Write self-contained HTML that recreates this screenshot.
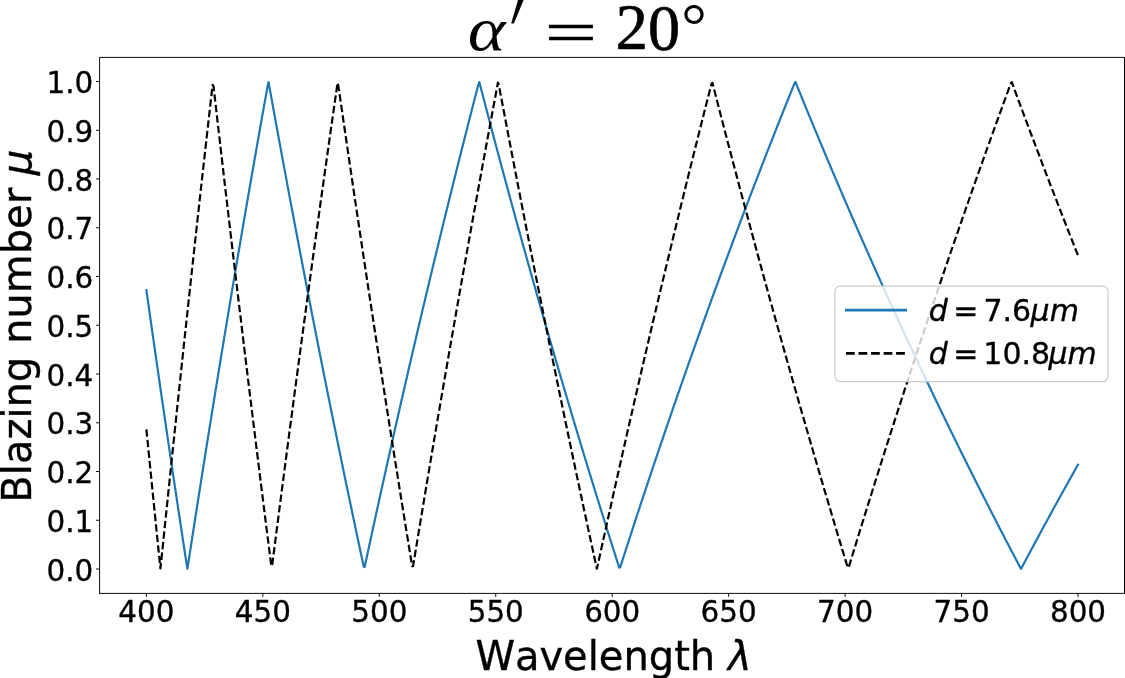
<!DOCTYPE html>
<html lang="en"><head><meta charset="utf-8"><title>Blazing number</title>
<style>html,body{margin:0;padding:0;background:#fff;}svg{display:block;}text{font-family:"DejaVu Sans","Liberation Sans",sans-serif;fill:#000;font-kerning:none;}.sb text,.sb{stroke:#000;stroke-width:0.35px;}.it{font-style:italic;}.ser{font-family:"Liberation Serif","DejaVu Serif",serif;}.dser{font-family:"DejaVu Serif","Liberation Serif",serif;}</style></head><body>
<svg width="1125" height="678" viewBox="0 0 1125 678">
<rect x="0" y="0" width="1125" height="678" fill="#fff"/>
<defs><clipPath id="ax"><rect x="99.6" y="57.4" width="1024.9" height="536.0"/></clipPath></defs>
<g clip-path="url(#ax)" fill="none" stroke-linejoin="round">
<path d="M146.40,290.15 L147.33,296.77 L148.27,303.37 L149.20,309.96 L150.13,316.54 L151.06,323.10 L152.00,329.65 L152.93,336.19 L153.86,342.71 L154.79,349.22 L155.73,355.72 L156.66,362.21 L157.59,368.68 L158.52,375.14 L159.46,381.59 L160.39,388.03 L161.32,394.45 L162.25,400.86 L163.19,407.25 L164.12,413.64 L165.05,420.01 L165.98,426.37 L166.92,432.72 L167.85,439.05 L168.78,445.37 L169.71,451.68 L170.65,457.98 L171.58,464.26 L172.51,470.54 L173.44,476.80 L174.38,483.05 L175.31,489.28 L176.24,495.51 L177.17,501.72 L178.11,507.92 L179.04,514.11 L179.97,520.28 L180.90,526.45 L181.84,532.60 L182.77,538.74 L183.70,544.87 L184.63,550.99 L185.57,557.09 L186.50,563.19 L187.43,568.73 L188.36,562.66 L189.30,556.60 L190.23,550.56 L191.16,544.52 L192.09,538.50 L193.03,532.49 L193.96,526.48 L194.89,520.49 L195.82,514.52 L196.76,508.55 L197.69,502.59 L198.62,496.65 L199.55,490.72 L200.49,484.80 L201.42,478.89 L202.35,472.99 L203.28,467.10 L204.22,461.22 L205.15,455.35 L206.08,449.50 L207.01,443.66 L207.95,437.82 L208.88,432.00 L209.81,426.19 L210.74,420.39 L211.68,414.60 L212.61,408.82 L213.54,403.05 L214.47,397.30 L215.41,391.55 L216.34,385.81 L217.27,380.09 L218.21,374.38 L219.14,368.67 L220.07,362.98 L221.00,357.30 L221.94,351.62 L222.87,345.96 L223.80,340.31 L224.73,334.67 L225.67,329.04 L226.60,323.42 L227.53,317.81 L228.46,312.21 L229.40,306.62 L230.33,301.04 L231.26,295.48 L232.19,289.92 L233.13,284.37 L234.06,278.83 L234.99,273.30 L235.92,267.79 L236.86,262.28 L237.79,256.78 L238.72,251.29 L239.65,245.82 L240.59,240.35 L241.52,234.89 L242.45,229.44 L243.38,224.01 L244.32,218.58 L245.25,213.16 L246.18,207.75 L247.11,202.35 L248.05,196.96 L248.98,191.58 L249.91,186.22 L250.84,180.86 L251.78,175.51 L252.71,170.16 L253.64,164.83 L254.57,159.51 L255.51,154.20 L256.44,148.90 L257.37,143.61 L258.30,138.32 L259.24,133.05 L260.17,127.78 L261.10,122.53 L262.03,117.28 L262.97,112.05 L263.90,106.82 L264.83,101.60 L265.76,96.39 L266.70,91.19 L267.63,86.00 L268.56,82.18 L269.49,87.35 L270.43,92.51 L271.36,97.67 L272.29,102.81 L273.22,107.95 L274.16,113.07 L275.09,118.19 L276.02,123.30 L276.95,128.40 L277.89,133.49 L278.82,138.57 L279.75,143.64 L280.68,148.71 L281.62,153.76 L282.55,158.81 L283.48,163.84 L284.41,168.87 L285.35,173.89 L286.28,178.90 L287.21,183.91 L288.14,188.90 L289.08,193.88 L290.01,198.86 L290.94,203.83 L291.88,208.79 L292.81,213.74 L293.74,218.68 L294.67,223.61 L295.61,228.54 L296.54,233.45 L297.47,238.36 L298.40,243.26 L299.34,248.15 L300.27,253.03 L301.20,257.91 L302.13,262.77 L303.07,267.63 L304.00,272.48 L304.93,277.32 L305.86,282.15 L306.80,286.98 L307.73,291.80 L308.66,296.60 L309.59,301.40 L310.53,306.19 L311.46,310.98 L312.39,315.75 L313.32,320.52 L314.26,325.28 L315.19,330.03 L316.12,334.77 L317.05,339.51 L317.99,344.24 L318.92,348.95 L319.85,353.67 L320.78,358.37 L321.72,363.06 L322.65,367.75 L323.58,372.43 L324.51,377.10 L325.45,381.77 L326.38,386.42 L327.31,391.07 L328.24,395.71 L329.18,400.34 L330.11,404.97 L331.04,409.58 L331.97,414.19 L332.91,418.79 L333.84,423.39 L334.77,427.97 L335.70,432.55 L336.64,437.12 L337.57,441.69 L338.50,446.24 L339.43,450.79 L340.37,455.33 L341.30,459.87 L342.23,464.39 L343.16,468.91 L344.10,473.42 L345.03,477.92 L345.96,482.42 L346.89,486.91 L347.83,491.39 L348.76,495.86 L349.69,500.33 L350.62,504.79 L351.56,509.24 L352.49,513.69 L353.42,518.12 L354.35,522.55 L355.29,526.98 L356.22,531.39 L357.15,535.80 L358.08,540.20 L359.02,544.59 L359.95,548.98 L360.88,553.36 L361.82,557.73 L362.75,562.10 L363.68,566.46 L364.61,567.19 L365.55,562.85 L366.48,558.51 L367.41,554.18 L368.34,549.86 L369.28,545.54 L370.21,541.23 L371.14,536.93 L372.07,532.64 L373.01,528.35 L373.94,524.07 L374.87,519.79 L375.80,515.52 L376.74,511.26 L377.67,507.01 L378.60,502.76 L379.53,498.52 L380.47,494.29 L381.40,490.06 L382.33,485.84 L383.26,481.63 L384.20,477.42 L385.13,473.22 L386.06,469.03 L386.99,464.84 L387.93,460.66 L388.86,456.49 L389.79,452.32 L390.72,448.16 L391.66,444.01 L392.59,439.86 L393.52,435.72 L394.45,431.59 L395.39,427.46 L396.32,423.34 L397.25,419.22 L398.18,415.12 L399.12,411.01 L400.05,406.92 L400.98,402.83 L401.91,398.75 L402.85,394.67 L403.78,390.60 L404.71,386.54 L405.64,382.49 L406.58,378.44 L407.51,374.39 L408.44,370.35 L409.37,366.32 L410.31,362.30 L411.24,358.28 L412.17,354.27 L413.10,350.26 L414.04,346.26 L414.97,342.27 L415.90,338.28 L416.83,334.30 L417.77,330.32 L418.70,326.36 L419.63,322.39 L420.56,318.44 L421.50,314.49 L422.43,310.54 L423.36,306.60 L424.29,302.67 L425.23,298.74 L426.16,294.82 L427.09,290.91 L428.02,287.00 L428.96,283.10 L429.89,279.20 L430.82,275.31 L431.75,271.43 L432.69,267.55 L433.62,263.68 L434.55,259.81 L435.49,255.95 L436.42,252.10 L437.35,248.25 L438.28,244.41 L439.22,240.57 L440.15,236.74 L441.08,232.91 L442.01,229.09 L442.95,225.28 L443.88,221.47 L444.81,217.67 L445.74,213.87 L446.68,210.08 L447.61,206.30 L448.54,202.52 L449.47,198.75 L450.41,194.98 L451.34,191.22 L452.27,187.46 L453.20,183.71 L454.14,179.96 L455.07,176.22 L456.00,172.49 L456.93,168.76 L457.87,165.04 L458.80,161.32 L459.73,157.61 L460.66,153.91 L461.60,150.21 L462.53,146.51 L463.46,142.82 L464.39,139.14 L465.33,135.46 L466.26,131.79 L467.19,128.12 L468.12,124.46 L469.06,120.80 L469.99,117.15 L470.92,113.50 L471.85,109.86 L472.79,106.23 L473.72,102.60 L474.65,98.97 L475.58,95.36 L476.52,91.74 L477.45,88.13 L478.38,84.53 L479.31,82.07 L480.25,85.66 L481.18,89.24 L482.11,92.83 L483.04,96.40 L483.98,99.97 L484.91,103.54 L485.84,107.10 L486.77,110.65 L487.71,114.20 L488.64,117.75 L489.57,121.29 L490.50,124.82 L491.44,128.35 L492.37,131.88 L493.30,135.40 L494.23,138.91 L495.17,142.42 L496.10,145.92 L497.03,149.42 L497.96,152.91 L498.90,156.40 L499.83,159.89 L500.76,163.36 L501.69,166.84 L502.63,170.31 L503.56,173.77 L504.49,177.23 L505.43,180.68 L506.36,184.13 L507.29,187.57 L508.22,191.01 L509.16,194.44 L510.09,197.87 L511.02,201.30 L511.95,204.71 L512.89,208.13 L513.82,211.54 L514.75,214.94 L515.68,218.34 L516.62,221.73 L517.55,225.12 L518.48,228.51 L519.41,231.89 L520.35,235.26 L521.28,238.63 L522.21,242.00 L523.14,245.36 L524.08,248.71 L525.01,252.06 L525.94,255.41 L526.87,258.75 L527.81,262.09 L528.74,265.42 L529.67,268.75 L530.60,272.07 L531.54,275.39 L532.47,278.70 L533.40,282.01 L534.33,285.31 L535.27,288.61 L536.20,291.90 L537.13,295.19 L538.06,298.48 L539.00,301.76 L539.93,305.03 L540.86,308.30 L541.79,311.57 L542.73,314.83 L543.66,318.09 L544.59,321.34 L545.52,324.59 L546.46,327.83 L547.39,331.07 L548.32,334.31 L549.25,337.54 L550.19,340.76 L551.12,343.99 L552.05,347.20 L552.98,350.41 L553.92,353.62 L554.85,356.82 L555.78,360.02 L556.71,363.22 L557.65,366.41 L558.58,369.59 L559.51,372.77 L560.44,375.95 L561.38,379.12 L562.31,382.29 L563.24,385.45 L564.17,388.61 L565.11,391.77 L566.04,394.92 L566.97,398.06 L567.90,401.20 L568.84,404.34 L569.77,407.47 L570.70,410.60 L571.63,413.73 L572.57,416.85 L573.50,419.96 L574.43,423.07 L575.36,426.18 L576.30,429.29 L577.23,432.38 L578.16,435.48 L579.10,438.57 L580.03,441.65 L580.96,444.74 L581.89,447.81 L582.83,450.89 L583.76,453.96 L584.69,457.02 L585.62,460.08 L586.56,463.14 L587.49,466.19 L588.42,469.24 L589.35,472.28 L590.29,475.32 L591.22,478.36 L592.15,481.39 L593.08,484.42 L594.02,487.44 L594.95,490.46 L595.88,493.48 L596.81,496.49 L597.75,499.50 L598.68,502.50 L599.61,505.50 L600.54,508.50 L601.48,511.49 L602.41,514.47 L603.34,517.46 L604.27,520.44 L605.21,523.41 L606.14,526.38 L607.07,529.35 L608.00,532.31 L608.94,535.27 L609.87,538.23 L610.80,541.18 L611.73,544.13 L612.67,547.07 L613.60,550.01 L614.53,552.95 L615.46,555.88 L616.40,558.81 L617.33,561.73 L618.26,564.65 L619.19,567.57 L620.13,567.52 L621.06,564.61 L621.99,561.71 L622.92,558.81 L623.86,555.91 L624.79,553.02 L625.72,550.13 L626.65,547.24 L627.59,544.36 L628.52,541.48 L629.45,538.61 L630.38,535.74 L631.32,532.87 L632.25,530.01 L633.18,527.15 L634.11,524.29 L635.05,521.44 L635.98,518.60 L636.91,515.75 L637.84,512.91 L638.78,510.07 L639.71,507.24 L640.64,504.41 L641.57,501.59 L642.51,498.77 L643.44,495.95 L644.37,493.13 L645.30,490.32 L646.24,487.52 L647.17,484.71 L648.10,481.91 L649.04,479.12 L649.97,476.32 L650.90,473.53 L651.83,470.75 L652.77,467.97 L653.70,465.19 L654.63,462.42 L655.56,459.64 L656.50,456.88 L657.43,454.11 L658.36,451.35 L659.29,448.60 L660.23,445.84 L661.16,443.09 L662.09,440.35 L663.02,437.61 L663.96,434.87 L664.89,432.13 L665.82,429.40 L666.75,426.67 L667.69,423.95 L668.62,421.23 L669.55,418.51 L670.48,415.79 L671.42,413.08 L672.35,410.38 L673.28,407.67 L674.21,404.97 L675.15,402.27 L676.08,399.58 L677.01,396.89 L677.94,394.20 L678.88,391.52 L679.81,388.84 L680.74,386.17 L681.67,383.49 L682.61,380.82 L683.54,378.16 L684.47,375.49 L685.40,372.83 L686.34,370.18 L687.27,367.53 L688.20,364.88 L689.13,362.23 L690.07,359.59 L691.00,356.95 L691.93,354.31 L692.86,351.68 L693.80,349.05 L694.73,346.42 L695.66,343.80 L696.59,341.18 L697.53,338.57 L698.46,335.95 L699.39,333.34 L700.32,330.74 L701.26,328.13 L702.19,325.53 L703.12,322.94 L704.05,320.34 L704.99,317.75 L705.92,315.17 L706.85,312.58 L707.78,310.00 L708.72,307.43 L709.65,304.85 L710.58,302.28 L711.51,299.71 L712.45,297.15 L713.38,294.59 L714.31,292.03 L715.24,289.48 L716.18,286.92 L717.11,284.38 L718.04,281.83 L718.97,279.29 L719.91,276.75 L720.84,274.21 L721.77,271.68 L722.71,269.15 L723.64,266.63 L724.57,264.10 L725.50,261.58 L726.44,259.07 L727.37,256.55 L728.30,254.04 L729.23,251.53 L730.17,249.03 L731.10,246.53 L732.03,244.03 L732.96,241.53 L733.90,239.04 L734.83,236.55 L735.76,234.07 L736.69,231.58 L737.63,229.10 L738.56,226.62 L739.49,224.15 L740.42,221.68 L741.36,219.21 L742.29,216.75 L743.22,214.28 L744.15,211.83 L745.09,209.37 L746.02,206.92 L746.95,204.47 L747.88,202.02 L748.82,199.58 L749.75,197.13 L750.68,194.70 L751.61,192.26 L752.55,189.83 L753.48,187.40 L754.41,184.97 L755.34,182.55 L756.28,180.13 L757.21,177.71 L758.14,175.30 L759.07,172.89 L760.01,170.48 L760.94,168.07 L761.87,165.67 L762.80,163.27 L763.74,160.87 L764.67,158.48 L765.60,156.08 L766.53,153.70 L767.47,151.31 L768.40,148.93 L769.33,146.55 L770.26,144.17 L771.20,141.80 L772.13,139.42 L773.06,137.06 L773.99,134.69 L774.93,132.33 L775.86,129.97 L776.79,127.61 L777.72,125.26 L778.66,122.90 L779.59,120.55 L780.52,118.21 L781.45,115.87 L782.39,113.52 L783.32,111.19 L784.25,108.85 L785.18,106.52 L786.12,104.19 L787.05,101.86 L787.98,99.54 L788.91,97.22 L789.85,94.90 L790.78,92.58 L791.71,90.27 L792.65,87.96 L793.58,85.65 L794.51,83.35 L795.44,81.95 L796.38,84.25 L797.31,86.55 L798.24,88.84 L799.17,91.13 L800.11,93.42 L801.04,95.71 L801.97,97.99 L802.90,100.27 L803.84,102.55 L804.77,104.82 L805.70,107.10 L806.63,109.37 L807.57,111.63 L808.50,113.90 L809.43,116.16 L810.36,118.42 L811.30,120.67 L812.23,122.93 L813.16,125.18 L814.09,127.43 L815.03,129.67 L815.96,131.92 L816.89,134.16 L817.82,136.40 L818.76,138.63 L819.69,140.86 L820.62,143.09 L821.55,145.32 L822.49,147.55 L823.42,149.77 L824.35,151.99 L825.28,154.21 L826.22,156.42 L827.15,158.63 L828.08,160.84 L829.01,163.05 L829.95,165.26 L830.88,167.46 L831.81,169.66 L832.74,171.86 L833.68,174.05 L834.61,176.24 L835.54,178.43 L836.47,180.62 L837.41,182.80 L838.34,184.98 L839.27,187.16 L840.20,189.34 L841.14,191.52 L842.07,193.69 L843.00,195.86 L843.93,198.02 L844.87,200.19 L845.80,202.35 L846.73,204.51 L847.66,206.67 L848.60,208.82 L849.53,210.97 L850.46,213.12 L851.39,215.27 L852.33,217.41 L853.26,219.56 L854.19,221.70 L855.12,223.83 L856.06,225.97 L856.99,228.10 L857.92,230.23 L858.85,232.36 L859.79,234.49 L860.72,236.61 L861.65,238.73 L862.58,240.85 L863.52,242.96 L864.45,245.08 L865.38,247.19 L866.32,249.30 L867.25,251.40 L868.18,253.51 L869.11,255.61 L870.05,257.71 L870.98,259.80 L871.91,261.90 L872.84,263.99 L873.78,266.08 L874.71,268.17 L875.64,270.25 L876.57,272.33 L877.51,274.41 L878.44,276.49 L879.37,278.57 L880.30,280.64 L881.24,282.71 L882.17,284.78 L883.10,286.85 L884.03,288.91 L884.97,290.97 L885.90,293.03 L886.83,295.09 L887.76,297.14 L888.70,299.20 L889.63,301.25 L890.56,303.30 L891.49,305.34 L892.43,307.38 L893.36,309.43 L894.29,311.46 L895.22,313.50 L896.16,315.54 L897.09,317.57 L898.02,319.60 L898.95,321.63 L899.89,323.65 L900.82,325.67 L901.75,327.69 L902.68,329.71 L903.62,331.73 L904.55,333.74 L905.48,335.76 L906.41,337.77 L907.35,339.77 L908.28,341.78 L909.21,343.78 L910.14,345.78 L911.08,347.78 L912.01,349.78 L912.94,351.77 L913.87,353.76 L914.81,355.75 L915.74,357.74 L916.67,359.73 L917.60,361.71 L918.54,363.69 L919.47,365.67 L920.40,367.65 L921.33,369.62 L922.27,371.60 L923.20,373.57 L924.13,375.54 L925.06,377.50 L926.00,379.47 L926.93,381.43 L927.86,383.39 L928.79,385.34 L929.73,387.30 L930.66,389.25 L931.59,391.20 L932.52,393.15 L933.46,395.10 L934.39,397.05 L935.32,398.99 L936.26,400.93 L937.19,402.87 L938.12,404.80 L939.05,406.74 L939.99,408.67 L940.92,410.60 L941.85,412.53 L942.78,414.46 L943.72,416.38 L944.65,418.30 L945.58,420.22 L946.51,422.14 L947.45,424.05 L948.38,425.97 L949.31,427.88 L950.24,429.79 L951.18,431.70 L952.11,433.60 L953.04,435.51 L953.97,437.41 L954.91,439.31 L955.84,441.20 L956.77,443.10 L957.70,444.99 L958.64,446.88 L959.57,448.77 L960.50,450.66 L961.43,452.54 L962.37,454.43 L963.30,456.31 L964.23,458.19 L965.16,460.06 L966.10,461.94 L967.03,463.81 L967.96,465.68 L968.89,467.55 L969.83,469.42 L970.76,471.29 L971.69,473.15 L972.62,475.01 L973.56,476.87 L974.49,478.73 L975.42,480.58 L976.35,482.44 L977.29,484.29 L978.22,486.14 L979.15,487.98 L980.08,489.83 L981.02,491.67 L981.95,493.51 L982.88,495.35 L983.81,497.19 L984.75,499.03 L985.68,500.86 L986.61,502.69 L987.54,504.52 L988.48,506.35 L989.41,508.18 L990.34,510.00 L991.27,511.82 L992.21,513.64 L993.14,515.46 L994.07,517.28 L995.00,519.09 L995.94,520.91 L996.87,522.72 L997.80,524.53 L998.73,526.33 L999.67,528.14 L1000.60,529.94 L1001.53,531.74 L1002.46,533.54 L1003.40,535.34 L1004.33,537.14 L1005.26,538.93 L1006.19,540.72 L1007.13,542.51 L1008.06,544.30 L1008.99,546.09 L1009.93,547.87 L1010.86,549.65 L1011.79,551.44 L1012.72,553.21 L1013.66,554.99 L1014.59,556.77 L1015.52,558.54 L1016.45,560.31 L1017.39,562.08 L1018.32,563.85 L1019.25,565.62 L1020.18,567.38 L1021.12,568.86 L1022.05,567.10 L1022.98,565.34 L1023.91,563.58 L1024.85,561.82 L1025.78,560.07 L1026.71,558.32 L1027.64,556.57 L1028.58,554.82 L1029.51,553.07 L1030.44,551.33 L1031.37,549.59 L1032.31,547.85 L1033.24,546.11 L1034.17,544.37 L1035.10,542.63 L1036.04,540.90 L1036.97,539.17 L1037.90,537.44 L1038.83,535.71 L1039.77,533.98 L1040.70,532.26 L1041.63,530.53 L1042.56,528.81 L1043.50,527.09 L1044.43,525.38 L1045.36,523.66 L1046.29,521.94 L1047.23,520.23 L1048.16,518.52 L1049.09,516.81 L1050.02,515.10 L1050.96,513.40 L1051.89,511.69 L1052.82,509.99 L1053.75,508.29 L1054.69,506.59 L1055.62,504.90 L1056.55,503.20 L1057.48,501.51 L1058.42,499.81 L1059.35,498.12 L1060.28,496.44 L1061.21,494.75 L1062.15,493.06 L1063.08,491.38 L1064.01,489.70 L1064.94,488.02 L1065.88,486.34 L1066.81,484.66 L1067.74,482.99 L1068.67,481.32 L1069.61,479.64 L1070.54,477.97 L1071.47,476.31 L1072.40,474.64 L1073.34,472.97 L1074.27,471.31 L1075.20,469.65 L1076.13,467.99 L1077.07,466.33 L1078.00,464.68" stroke="#1f77b4" stroke-width="2.2" stroke-linecap="square"/>
<path d="M146.40,429.32 L147.33,438.72 L148.27,448.10 L149.20,457.47 L150.13,466.81 L151.06,476.14 L152.00,485.45 L152.93,494.74 L153.86,504.01 L154.79,513.27 L155.73,522.50 L156.66,531.72 L157.59,540.92 L158.52,550.10 L159.46,559.26 L160.39,568.40 L161.32,560.47 L162.25,551.36 L163.19,542.27 L164.12,533.20 L165.05,524.14 L165.98,515.11 L166.92,506.09 L167.85,497.09 L168.78,488.10 L169.71,479.14 L170.65,470.19 L171.58,461.26 L172.51,452.34 L173.44,443.44 L174.38,434.57 L175.31,425.70 L176.24,416.86 L177.17,408.03 L178.11,399.22 L179.04,390.43 L179.97,381.65 L180.90,372.89 L181.84,364.15 L182.77,355.42 L183.70,346.71 L184.63,338.02 L185.57,329.34 L186.50,320.68 L187.43,312.04 L188.36,303.42 L189.30,294.81 L190.23,286.21 L191.16,277.64 L192.09,269.08 L193.03,260.53 L193.96,252.00 L194.89,243.49 L195.82,235.00 L196.76,226.52 L197.69,218.06 L198.62,209.61 L199.55,201.18 L200.49,192.76 L201.42,184.36 L202.35,175.98 L203.28,167.61 L204.22,159.26 L205.15,150.93 L206.08,142.60 L207.01,134.30 L207.95,126.01 L208.88,117.74 L209.81,109.48 L210.74,101.24 L211.68,93.01 L212.61,84.80 L213.54,86.40 L214.47,94.58 L215.41,102.74 L216.34,110.90 L217.27,119.03 L218.21,127.15 L219.14,135.26 L220.07,143.35 L221.00,151.42 L221.94,159.48 L222.87,167.53 L223.80,175.56 L224.73,183.57 L225.67,191.57 L226.60,199.56 L227.53,207.53 L228.46,215.49 L229.40,223.43 L230.33,231.36 L231.26,239.27 L232.19,247.17 L233.13,255.05 L234.06,262.92 L234.99,270.78 L235.92,278.62 L236.86,286.45 L237.79,294.26 L238.72,302.06 L239.65,309.84 L240.59,317.61 L241.52,325.37 L242.45,333.11 L243.38,340.83 L244.32,348.55 L245.25,356.25 L246.18,363.93 L247.11,371.60 L248.05,379.26 L248.98,386.91 L249.91,394.54 L250.84,402.15 L251.78,409.76 L252.71,417.35 L253.64,424.92 L254.57,432.48 L255.51,440.03 L256.44,447.57 L257.37,455.09 L258.30,462.60 L259.24,470.09 L260.17,477.57 L261.10,485.04 L262.03,492.49 L262.97,499.93 L263.90,507.36 L264.83,514.78 L265.76,522.18 L266.70,529.57 L267.63,536.94 L268.56,544.31 L269.49,551.66 L270.43,558.99 L271.36,566.32 L272.29,564.37 L273.22,557.08 L274.16,549.79 L275.09,542.52 L276.02,535.26 L276.95,528.01 L277.89,520.78 L278.82,513.56 L279.75,506.35 L280.68,499.15 L281.62,491.97 L282.55,484.80 L283.48,477.64 L284.41,470.50 L285.35,463.36 L286.28,456.24 L287.21,449.13 L288.14,442.04 L289.08,434.95 L290.01,427.88 L290.94,420.82 L291.88,413.78 L292.81,406.74 L293.74,399.72 L294.67,392.71 L295.61,385.71 L296.54,378.72 L297.47,371.75 L298.40,364.79 L299.34,357.84 L300.27,350.90 L301.20,343.97 L302.13,337.06 L303.07,330.15 L304.00,323.26 L304.93,316.38 L305.86,309.52 L306.80,302.66 L307.73,295.82 L308.66,288.98 L309.59,282.16 L310.53,275.35 L311.46,268.56 L312.39,261.77 L313.32,255.00 L314.26,248.23 L315.19,241.48 L316.12,234.74 L317.05,228.01 L317.99,221.30 L318.92,214.59 L319.85,207.90 L320.78,201.21 L321.72,194.54 L322.65,187.88 L323.58,181.23 L324.51,174.59 L325.45,167.96 L326.38,161.35 L327.31,154.74 L328.24,148.15 L329.18,141.57 L330.11,134.99 L331.04,128.43 L331.97,121.88 L332.91,115.34 L333.84,108.82 L334.77,102.30 L335.70,95.79 L336.64,89.30 L337.57,82.81 L338.50,86.66 L339.43,93.13 L340.37,99.58 L341.30,106.02 L342.23,112.45 L343.16,118.87 L344.10,125.28 L345.03,131.68 L345.96,138.07 L346.89,144.45 L347.83,150.82 L348.76,157.17 L349.69,163.52 L350.62,169.86 L351.56,176.18 L352.49,182.50 L353.42,188.81 L354.35,195.10 L355.29,201.39 L356.22,207.66 L357.15,213.92 L358.08,220.18 L359.02,226.42 L359.95,232.66 L360.88,238.88 L361.82,245.09 L362.75,251.30 L363.68,257.49 L364.61,263.67 L365.55,269.85 L366.48,276.01 L367.41,282.16 L368.34,288.31 L369.28,294.44 L370.21,300.56 L371.14,306.68 L372.07,312.78 L373.01,318.88 L373.94,324.96 L374.87,331.03 L375.80,337.10 L376.74,343.15 L377.67,349.20 L378.60,355.23 L379.53,361.26 L380.47,367.28 L381.40,373.28 L382.33,379.28 L383.26,385.27 L384.20,391.25 L385.13,397.21 L386.06,403.17 L386.99,409.12 L387.93,415.06 L388.86,420.99 L389.79,426.91 L390.72,432.82 L391.66,438.73 L392.59,444.62 L393.52,450.50 L394.45,456.38 L395.39,462.24 L396.32,468.10 L397.25,473.95 L398.18,479.78 L399.12,485.61 L400.05,491.43 L400.98,497.24 L401.91,503.04 L402.85,508.83 L403.78,514.61 L404.71,520.39 L405.64,526.15 L406.58,531.91 L407.51,537.65 L408.44,543.39 L409.37,549.12 L410.31,554.84 L411.24,560.55 L412.17,566.25 L413.10,566.06 L414.04,560.37 L414.97,554.70 L415.90,549.03 L416.83,543.37 L417.77,537.72 L418.70,532.08 L419.63,526.45 L420.56,520.83 L421.50,515.22 L422.43,509.61 L423.36,504.01 L424.29,498.43 L425.23,492.85 L426.16,487.28 L427.09,481.71 L428.02,476.16 L428.96,470.62 L429.89,465.08 L430.82,459.55 L431.75,454.03 L432.69,448.52 L433.62,443.02 L434.55,437.52 L435.49,432.04 L436.42,426.56 L437.35,421.09 L438.28,415.63 L439.22,410.18 L440.15,404.73 L441.08,399.30 L442.01,393.87 L442.95,388.45 L443.88,383.04 L444.81,377.64 L445.74,372.24 L446.68,366.86 L447.61,361.48 L448.54,356.11 L449.47,350.74 L450.41,345.39 L451.34,340.04 L452.27,334.71 L453.20,329.38 L454.14,324.05 L455.07,318.74 L456.00,313.43 L456.93,308.14 L457.87,302.85 L458.80,297.56 L459.73,292.29 L460.66,287.02 L461.60,281.77 L462.53,276.51 L463.46,271.27 L464.39,266.04 L465.33,260.81 L466.26,255.59 L467.19,250.38 L468.12,245.18 L469.06,239.98 L469.99,234.79 L470.92,229.61 L471.85,224.44 L472.79,219.27 L473.72,214.11 L474.65,208.96 L475.58,203.82 L476.52,198.69 L477.45,193.56 L478.38,188.44 L479.31,183.33 L480.25,178.22 L481.18,173.13 L482.11,168.04 L483.04,162.96 L483.98,157.88 L484.91,152.81 L485.84,147.75 L486.77,142.70 L487.71,137.66 L488.64,132.62 L489.57,127.59 L490.50,122.57 L491.44,117.55 L492.37,112.54 L493.30,107.54 L494.23,102.55 L495.17,97.56 L496.10,92.58 L497.03,87.61 L497.96,82.65 L498.90,85.31 L499.83,90.26 L500.76,95.20 L501.69,100.14 L502.63,105.07 L503.56,109.99 L504.49,114.90 L505.43,119.81 L506.36,124.71 L507.29,129.60 L508.22,134.49 L509.16,139.37 L510.09,144.24 L511.02,149.10 L511.95,153.96 L512.89,158.81 L513.82,163.66 L514.75,168.49 L515.68,173.32 L516.62,178.15 L517.55,182.96 L518.48,187.77 L519.41,192.58 L520.35,197.37 L521.28,202.16 L522.21,206.94 L523.14,211.72 L524.08,216.49 L525.01,221.25 L525.94,226.00 L526.87,230.75 L527.81,235.49 L528.74,240.23 L529.67,244.95 L530.60,249.68 L531.54,254.39 L532.47,259.10 L533.40,263.80 L534.33,268.49 L535.27,273.18 L536.20,277.86 L537.13,282.54 L538.06,287.21 L539.00,291.87 L539.93,296.52 L540.86,301.17 L541.79,305.81 L542.73,310.45 L543.66,315.08 L544.59,319.70 L545.52,324.31 L546.46,328.92 L547.39,333.53 L548.32,338.12 L549.25,342.71 L550.19,347.30 L551.12,351.87 L552.05,356.44 L552.98,361.01 L553.92,365.57 L554.85,370.12 L555.78,374.66 L556.71,379.20 L557.65,383.74 L558.58,388.26 L559.51,392.78 L560.44,397.30 L561.38,401.81 L562.31,406.31 L563.24,410.80 L564.17,415.29 L565.11,419.77 L566.04,424.25 L566.97,428.72 L567.90,433.19 L568.84,437.64 L569.77,442.10 L570.70,446.54 L571.63,450.98 L572.57,455.42 L573.50,459.84 L574.43,464.26 L575.36,468.68 L576.30,473.09 L577.23,477.49 L578.16,481.89 L579.10,486.28 L580.03,490.67 L580.96,495.05 L581.89,499.42 L582.83,503.79 L583.76,508.15 L584.69,512.50 L585.62,516.85 L586.56,521.20 L587.49,525.54 L588.42,529.87 L589.35,534.19 L590.29,538.51 L591.22,542.83 L592.15,547.14 L593.08,551.44 L594.02,555.74 L594.95,560.03 L595.88,564.31 L596.81,568.59 L597.75,565.13 L598.68,560.87 L599.61,556.60 L600.54,552.35 L601.48,548.10 L602.41,543.85 L603.34,539.61 L604.27,535.38 L605.21,531.15 L606.14,526.93 L607.07,522.71 L608.00,518.50 L608.94,514.30 L609.87,510.10 L610.80,505.90 L611.73,501.71 L612.67,497.53 L613.60,493.35 L614.53,489.18 L615.46,485.01 L616.40,480.85 L617.33,476.70 L618.26,472.55 L619.19,468.41 L620.13,464.27 L621.06,460.13 L621.99,456.01 L622.92,451.88 L623.86,447.77 L624.79,443.66 L625.72,439.55 L626.65,435.45 L627.59,431.35 L628.52,427.26 L629.45,423.18 L630.38,419.10 L631.32,415.03 L632.25,410.96 L633.18,406.90 L634.11,402.84 L635.05,398.79 L635.98,394.74 L636.91,390.70 L637.84,386.66 L638.78,382.63 L639.71,378.61 L640.64,374.59 L641.57,370.57 L642.51,366.56 L643.44,362.56 L644.37,358.56 L645.30,354.56 L646.24,350.57 L647.17,346.59 L648.10,342.61 L649.04,338.64 L649.97,334.67 L650.90,330.71 L651.83,326.75 L652.77,322.80 L653.70,318.85 L654.63,314.91 L655.56,310.97 L656.50,307.04 L657.43,303.11 L658.36,299.19 L659.29,295.27 L660.23,291.36 L661.16,287.45 L662.09,283.55 L663.02,279.65 L663.96,275.76 L664.89,271.87 L665.82,267.99 L666.75,264.11 L667.69,260.24 L668.62,256.37 L669.55,252.51 L670.48,248.66 L671.42,244.80 L672.35,240.96 L673.28,237.11 L674.21,233.28 L675.15,229.44 L676.08,225.62 L677.01,221.79 L677.94,217.98 L678.88,214.16 L679.81,210.35 L680.74,206.55 L681.67,202.75 L682.61,198.96 L683.54,195.17 L684.47,191.39 L685.40,187.61 L686.34,183.83 L687.27,180.06 L688.20,176.30 L689.13,172.54 L690.07,168.78 L691.00,165.03 L691.93,161.28 L692.86,157.54 L693.80,153.81 L694.73,150.08 L695.66,146.35 L696.59,142.63 L697.53,138.91 L698.46,135.20 L699.39,131.49 L700.32,127.78 L701.26,124.08 L702.19,120.39 L703.12,116.70 L704.05,113.01 L704.99,109.33 L705.92,105.66 L706.85,101.99 L707.78,98.32 L708.72,94.66 L709.65,91.00 L710.58,87.35 L711.51,83.70 L712.45,82.94 L713.38,86.58 L714.31,90.22 L715.24,93.85 L716.18,97.48 L717.11,101.10 L718.04,104.71 L718.97,108.33 L719.91,111.93 L720.84,115.54 L721.77,119.14 L722.71,122.73 L723.64,126.32 L724.57,129.91 L725.50,133.49 L726.44,137.06 L727.37,140.64 L728.30,144.21 L729.23,147.77 L730.17,151.33 L731.10,154.88 L732.03,158.43 L732.96,161.98 L733.90,165.52 L734.83,169.06 L735.76,172.59 L736.69,176.12 L737.63,179.64 L738.56,183.16 L739.49,186.68 L740.42,190.19 L741.36,193.70 L742.29,197.20 L743.22,200.70 L744.15,204.20 L745.09,207.69 L746.02,211.17 L746.95,214.65 L747.88,218.13 L748.82,221.60 L749.75,225.07 L750.68,228.54 L751.61,232.00 L752.55,235.45 L753.48,238.91 L754.41,242.35 L755.34,245.80 L756.28,249.24 L757.21,252.67 L758.14,256.10 L759.07,259.53 L760.01,262.95 L760.94,266.37 L761.87,269.79 L762.80,273.20 L763.74,276.61 L764.67,280.01 L765.60,283.41 L766.53,286.80 L767.47,290.19 L768.40,293.58 L769.33,296.96 L770.26,300.34 L771.20,303.71 L772.13,307.08 L773.06,310.45 L773.99,313.81 L774.93,317.17 L775.86,320.52 L776.79,323.87 L777.72,327.22 L778.66,330.56 L779.59,333.90 L780.52,337.23 L781.45,340.56 L782.39,343.89 L783.32,347.21 L784.25,350.53 L785.18,353.84 L786.12,357.15 L787.05,360.46 L787.98,363.76 L788.91,367.06 L789.85,370.35 L790.78,373.64 L791.71,376.93 L792.65,380.21 L793.58,383.49 L794.51,386.77 L795.44,390.04 L796.38,393.30 L797.31,396.57 L798.24,399.83 L799.17,403.08 L800.11,406.34 L801.04,409.58 L801.97,412.83 L802.90,416.07 L803.84,419.31 L804.77,422.54 L805.70,425.77 L806.63,428.99 L807.57,432.21 L808.50,435.43 L809.43,438.65 L810.36,441.86 L811.30,445.06 L812.23,448.27 L813.16,451.47 L814.09,454.66 L815.03,457.85 L815.96,461.04 L816.89,464.22 L817.82,467.40 L818.76,470.58 L819.69,473.75 L820.62,476.92 L821.55,480.09 L822.49,483.25 L823.42,486.41 L824.35,489.57 L825.28,492.72 L826.22,495.86 L827.15,499.01 L828.08,502.15 L829.01,505.28 L829.95,508.42 L830.88,511.55 L831.81,514.67 L832.74,517.79 L833.68,520.91 L834.61,524.03 L835.54,527.14 L836.47,530.25 L837.41,533.35 L838.34,536.45 L839.27,539.55 L840.20,542.64 L841.14,545.73 L842.07,548.82 L843.00,551.90 L843.93,554.98 L844.87,558.06 L845.80,561.13 L846.73,564.20 L847.66,567.26 L848.60,567.68 L849.53,564.62 L850.46,561.56 L851.39,558.51 L852.33,555.46 L853.26,552.42 L854.19,549.38 L855.12,546.34 L856.06,543.31 L856.99,540.28 L857.92,537.25 L858.85,534.23 L859.79,531.20 L860.72,528.19 L861.65,525.17 L862.58,522.16 L863.52,519.16 L864.45,516.15 L865.38,513.16 L866.32,510.16 L867.25,507.17 L868.18,504.18 L869.11,501.19 L870.05,498.21 L870.98,495.23 L871.91,492.25 L872.84,489.28 L873.78,486.31 L874.71,483.34 L875.64,480.38 L876.57,477.42 L877.51,474.46 L878.44,471.51 L879.37,468.56 L880.30,465.62 L881.24,462.67 L882.17,459.73 L883.10,456.80 L884.03,453.86 L884.97,450.93 L885.90,448.01 L886.83,445.08 L887.76,442.16 L888.70,439.25 L889.63,436.33 L890.56,433.42 L891.49,430.52 L892.43,427.61 L893.36,424.71 L894.29,421.81 L895.22,418.92 L896.16,416.03 L897.09,413.14 L898.02,410.26 L898.95,407.37 L899.89,404.50 L900.82,401.62 L901.75,398.75 L902.68,395.88 L903.62,393.02 L904.55,390.15 L905.48,387.29 L906.41,384.44 L907.35,381.59 L908.28,378.74 L909.21,375.89 L910.14,373.05 L911.08,370.21 L912.01,367.37 L912.94,364.53 L913.87,361.70 L914.81,358.87 L915.74,356.05 L916.67,353.23 L917.60,350.41 L918.54,347.59 L919.47,344.78 L920.40,341.97 L921.33,339.17 L922.27,336.36 L923.20,333.56 L924.13,330.77 L925.06,327.97 L926.00,325.18 L926.93,322.39 L927.86,319.61 L928.79,316.83 L929.73,314.05 L930.66,311.27 L931.59,308.50 L932.52,305.73 L933.46,302.96 L934.39,300.20 L935.32,297.44 L936.26,294.68 L937.19,291.92 L938.12,289.17 L939.05,286.42 L939.99,283.68 L940.92,280.94 L941.85,278.20 L942.78,275.46 L943.72,272.72 L944.65,269.99 L945.58,267.26 L946.51,264.54 L947.45,261.82 L948.38,259.10 L949.31,256.38 L950.24,253.67 L951.18,250.96 L952.11,248.25 L953.04,245.54 L953.97,242.84 L954.91,240.14 L955.84,237.45 L956.77,234.75 L957.70,232.06 L958.64,229.38 L959.57,226.69 L960.50,224.01 L961.43,221.33 L962.37,218.66 L963.30,215.98 L964.23,213.31 L965.16,210.64 L966.10,207.98 L967.03,205.32 L967.96,202.66 L968.89,200.00 L969.83,197.35 L970.76,194.70 L971.69,192.05 L972.62,189.41 L973.56,186.76 L974.49,184.13 L975.42,181.49 L976.35,178.86 L977.29,176.22 L978.22,173.60 L979.15,170.97 L980.08,168.35 L981.02,165.73 L981.95,163.11 L982.88,160.50 L983.81,157.89 L984.75,155.28 L985.68,152.67 L986.61,150.07 L987.54,147.47 L988.48,144.87 L989.41,142.27 L990.34,139.68 L991.27,137.09 L992.21,134.51 L993.14,131.92 L994.07,129.34 L995.00,126.76 L995.94,124.19 L996.87,121.61 L997.80,119.04 L998.73,116.47 L999.67,113.91 L1000.60,111.35 L1001.53,108.79 L1002.46,106.23 L1003.40,103.67 L1004.33,101.12 L1005.26,98.57 L1006.19,96.03 L1007.13,93.48 L1008.06,90.94 L1008.99,88.40 L1009.93,85.87 L1010.86,83.33 L1011.79,82.20 L1012.72,84.73 L1013.66,87.25 L1014.59,89.77 L1015.52,92.30 L1016.45,94.81 L1017.39,97.33 L1018.32,99.84 L1019.25,102.35 L1020.18,104.86 L1021.12,107.36 L1022.05,109.86 L1022.98,112.36 L1023.91,114.86 L1024.85,117.36 L1025.78,119.85 L1026.71,122.34 L1027.64,124.82 L1028.58,127.31 L1029.51,129.79 L1030.44,132.27 L1031.37,134.74 L1032.31,137.22 L1033.24,139.69 L1034.17,142.16 L1035.10,144.63 L1036.04,147.09 L1036.97,149.55 L1037.90,152.01 L1038.83,154.47 L1039.77,156.92 L1040.70,159.37 L1041.63,161.82 L1042.56,164.27 L1043.50,166.71 L1044.43,169.15 L1045.36,171.59 L1046.29,174.03 L1047.23,176.46 L1048.16,178.89 L1049.09,181.32 L1050.02,183.75 L1050.96,186.17 L1051.89,188.59 L1052.82,191.01 L1053.75,193.43 L1054.69,195.84 L1055.62,198.25 L1056.55,200.66 L1057.48,203.07 L1058.42,205.47 L1059.35,207.88 L1060.28,210.27 L1061.21,212.67 L1062.15,215.07 L1063.08,217.46 L1064.01,219.85 L1064.94,222.24 L1065.88,224.62 L1066.81,227.00 L1067.74,229.38 L1068.67,231.76 L1069.61,234.14 L1070.54,236.51 L1071.47,238.88 L1072.40,241.25 L1073.34,243.62 L1074.27,245.98 L1075.20,248.34 L1076.13,250.70 L1077.07,253.06 L1078.00,255.41" stroke="#000" stroke-width="2.2" stroke-dasharray="7.40 3.20"/>
</g>
<path d="M146.40,593.4v3.5 M262.85,593.4v3.5 M379.30,593.4v3.5 M495.75,593.4v3.5 M612.20,593.4v3.5 M728.65,593.4v3.5 M845.10,593.4v3.5 M961.55,593.4v3.5 M1078.00,593.4v3.5 M99.6,569.00h-3.5 M99.6,520.25h-3.5 M99.6,471.50h-3.5 M99.6,422.75h-3.5 M99.6,374.00h-3.5 M99.6,325.25h-3.5 M99.6,276.50h-3.5 M99.6,227.75h-3.5 M99.6,179.00h-3.5 M99.6,130.25h-3.5 M99.6,81.50h-3.5" stroke="#000" stroke-width="0.95" fill="none"/>
<path d="M99.6,593.8V57.4H1124.5M99.19999999999999,593.4H1124.5" fill="none" stroke="#000" stroke-width="0.95"/>
<path d="M1124.5,57.0V594.0" fill="none" stroke="#000" stroke-width="1"/>
<g class="sb" font-size="29.4" text-anchor="middle">
<text x="146.40" y="622.4">400</text>
<text x="262.85" y="622.4">450</text>
<text x="379.30" y="622.4">500</text>
<text x="495.75" y="622.4">550</text>
<text x="612.20" y="622.4">600</text>
<text x="728.65" y="622.4">650</text>
<text x="845.10" y="622.4">700</text>
<text x="961.55" y="622.4">750</text>
<text x="1078.00" y="622.4">800</text>
</g>
<g class="sb" font-size="29.4" text-anchor="end">
<text x="93.3" y="580.60">0.0</text>
<text x="93.3" y="531.85">0.1</text>
<text x="93.3" y="483.10">0.2</text>
<text x="93.3" y="434.35">0.3</text>
<text x="93.3" y="385.60">0.4</text>
<text x="93.3" y="336.85">0.5</text>
<text x="93.3" y="288.10">0.6</text>
<text x="93.3" y="239.35">0.7</text>
<text x="93.3" y="190.60">0.8</text>
<text x="93.3" y="141.85">0.9</text>
<text x="93.3" y="93.10">1.0</text>
</g>
<text x="613.5" y="669.8" font-size="40" class="sb" text-anchor="middle">Wavelength <tspan class="it">λ</tspan></text>
<text transform="translate(30.6,326.2) rotate(-90)" font-size="40" class="sb" text-anchor="middle">Blazing number <tspan class="it">μ</tspan></text>
<g id="title">
<text class="ser it" transform="translate(467.85,49.88) scale(1.1581,1)" font-size="61.97">α</text><text class="ser" transform="matrix(0.483,0,-0.243,1,491.61,89.30)" font-size="156">′</text> <text class="ser" transform="translate(544.61,53.20) scale(1.5321,1)" font-size="61.20" stroke="#000" stroke-width="0.3">=</text> <text class="ser" transform="translate(615.72,49.2) scale(0.975,1)" font-size="65.8" stroke="#000" stroke-width="0.7">2<tspan dx="0.3" dy="0.55">0</tspan></text><text class="ser" transform="translate(681.27,47.17) scale(0.9897,1)" font-size="64.46">°</text>
</g>
<rect x="834.9" y="286.0" width="273.20" height="95.60" rx="5.5" ry="5.5" fill="#fff" fill-opacity="0.8" stroke="#ccc" stroke-width="1.25"/>
<path d="M846.4,310.1H905.6" stroke="#1f77b4" stroke-width="2.8" stroke-linecap="square" fill="none"/>
<path d="M846,353.3H906" stroke="#000" stroke-width="2.8" stroke-dasharray="8.75 3.78" fill="none"/>
<g class="sb" font-size="30">
<text y="320.6"><tspan class="it" x="928.7">d</tspan> <tspan x="953.3">=</tspan> <tspan x="983.4">7.6</tspan><tspan class="it" x="1030.6">μm</tspan></text>
<text y="363.9"><tspan class="it" x="928.7">d</tspan> <tspan x="953.3">=</tspan> <tspan x="983.3">10.8</tspan><tspan class="it" x="1048.5">μm</tspan></text>
</g>
</svg></body></html>
